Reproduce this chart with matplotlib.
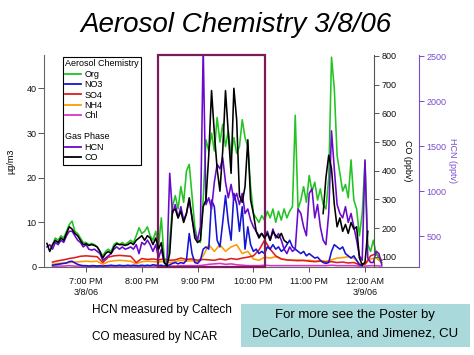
import numpy as np
import matplotlib
matplotlib.use('Agg')
import matplotlib.pyplot as plt
from matplotlib.lines import Line2D
from matplotlib.patches import Rectangle

plt.rcParams['font.family'] = ['Liberation Sans', 'DejaVu Sans']

nan = np.nan

# sample times, hours since midnight 3/8/06 (fast = 3 min, slow = 6 min)
t_fast = np.linspace(18.30, 24.30, 121)
t_slow = np.linspace(18.30, 24.30, 61)

# aerosol chemistry, ug/m3
org = [nan, nan, 5.0, 6.5, 6.0, 7.0, 6.5, 8.0, 9.5, 10.3,
       8.0, 7.5, 6.5, 5.5, 5.5, 5.0, 5.3, 5.0, 4.5, 3.5,
       2.5, 3.5, 4.0, 3.5, 5.0, 5.5, 5.0, 5.5, 5.0, 5.5,
       6.0, 5.5, 7.0, 8.8, 7.5, 8.0, 9.0, 7.0, 6.0, 8.0,
       4.5, 11.0, 2.0, 0.5, 6.0, 13.5, 16.0, 13.0, 18.0, 14.5,
       21.5, 23.0, 16.0, 9.0, 6.0, 5.5, 15.0, 28.5, 26.0, 30.0,
       26.0, 33.5, 28.0, 32.0, 27.0, 30.5, 25.0, 29.0, 25.5, 27.0,
       33.0, 29.0, 27.0, 18.0, 12.0, 11.0, 10.0, 11.5, 10.5, 12.5,
       11.0, 13.0, 10.0, 12.5, 10.5, 13.0, 11.0, 12.5, 13.5, 34.0,
       13.0, 15.0, 18.0, 14.5, 20.5, 17.0, 19.0, 15.0, 17.5, 14.0,
       13.0, 20.0, 47.0, 40.0, 25.0, 21.0, 17.0, 18.5, 15.5, 24.0,
       15.0, 13.0, 7.0, 12.0, 23.5, 5.0, 3.5, 6.0, 3.0, 2.0,
       1.0]
no3 = [nan, nan, 0.4, 0.5, 0.6, 0.7, 0.8, 0.9, 1.2, 1.3,
       0.9, 0.6, 0.4, 0.3, 0.3, 0.2, 0.3, 0.3, 0.2, 0.3,
       0.2, 0.3, 0.3, 0.4, 0.3, 0.3, 0.4, 0.3, 0.3, 0.4,
       0.3, 0.4, 0.3, 0.3, 0.4, 0.3, 0.4, 0.3, 0.5, 0.4,
       0.3, 0.4, 0.2, 0.2, 0.5, 0.8, 1.0, 0.7, 1.0, 0.8,
       1.5, 7.5, 3.0, 1.0, 0.8, 1.5, 4.0, 4.5, 4.0, 15.0,
       13.5, 6.0, 4.5, 10.0, 16.0, 10.0, 6.0, 16.5, 14.0, 8.0,
       13.5, 4.0, 9.0, 5.0, 3.5, 4.0, 3.0, 3.5, 3.0, 4.5,
       4.0, 5.0, 4.0, 4.5, 3.5, 4.0, 5.0, 6.0, 4.5, 4.0,
       3.5, 3.0, 3.5, 2.5, 3.0, 2.5, 2.0, 2.2, 1.5, 1.0,
       0.8, 1.0, 3.5, 5.0, 4.5, 4.0, 4.5, 3.0, 2.5, 2.0,
       2.5, 1.5, 0.5, 0.3, nan, nan, nan, nan, nan, nan,
       nan]
so4 = [nan, 1.1, 1.4, 1.6, 1.9, 2.1, 2.4, 2.5, 2.4, 2.3,
       1.0, 2.2, 2.5, 2.6, 2.5, 2.4, 1.0, 1.9, 1.7, 1.8,
       1.6, 1.8, 1.5, 1.6, 2.0, 1.7, 1.8, 1.5, 1.7, 1.6,
       1.5, 1.8, 1.6, 1.9, 1.7, 2.0, 2.2, 2.5, 3.8, 6.0,
       4.0, 2.5, 1.8, 1.6, 1.5, 1.4, 1.5, 1.3, 1.2, 1.3,
       1.1, 1.2, 1.0, 1.1, 0.9, 1.0, 0.5, 0.6, 2.5, 3.0,
       1.5]
nh4 = [nan, 0.6, 0.8, 0.9, 1.0, 1.1, 1.2, 1.3, 1.2, 1.3,
       0.6, 1.2, 1.4, 1.5, 1.4, 1.3, 0.7, 1.2, 1.3, 1.2,
       1.1, 1.3, 1.0, 1.2, 1.5, 1.3, 1.4, 1.2, 2.5, 5.0,
       3.5, 5.0, 3.5, 4.5, 5.0, 3.0, 3.5, 1.8, 1.5, 2.2,
       2.0, 2.3, 1.8, 1.6, 1.5, 1.6, 1.4, 1.5, 1.3, 1.4,
       1.3, 1.6, 2.0, 2.1, 2.3, 2.0, 0.8, 0.7, 1.8, 2.0,
       1.0]
chl = [nan, 0.1, 0.2, 0.2, 0.3, 0.2, 0.2, 0.2, 0.1, 0.2,
       0.1, 0.2, 0.2, 0.2, 0.2, 0.2, 0.1, 0.2, 0.2, 0.2,
       0.2, 0.2, 0.2, 0.2, 0.3, 0.3, 0.3, 0.3, 0.4, 0.6,
       0.7, 0.8, 0.6, 0.7, 0.5, 0.4, 0.3, 0.3, 0.3, 0.4,
       0.3, 0.3, 0.3, 0.3, 0.3, 0.3, 0.3, 0.3, 0.3, 0.3,
       0.3, 0.4, 0.3, 0.3, 0.3, 0.3, 0.2, 0.2, 0.3, 0.3,
       0.2]

# gas phase
hcn = [382, 407, 357, 432, 407, 457, 432, 506, 556, 556,
       506, 457, 432, 382, 407, 357, 347, 357, 333, 308,
       233, 258, 283, 308, 357, 382, 357, 382, 357, 367,
       382, 357, 407, 308, 432, 407, 457, 407, 333, 407,
       258, 357, 209, 184, 1201, 754, 853, 705, 829, 680,
       754, 903, 705, 531, 457, 605, 2600, 853, 928, 804,
       1101, 1300, 1250, 1374, 1101, 928, 1077, 903, 977, 853,
       977, 754, 804, 680, 605, 556, 506, 531, 481, 556,
       457, 581, 481, 531, 457, 357, 308, 382, 333, 357,
       804, 754, 605, 506, 977, 1027, 705, 853, 605, 457,
       407, 754, 1672, 1250, 853, 754, 705, 829, 655, 754,
       605, 457, 283, 233, 1349, 258, 209, 209, 333, 308,
       184]
co = [147, 119, 143, 158, 150, 166, 158, 182, 205, 197,
      182, 174, 158, 143, 146, 140, 143, 140, 135, 119,
      96, 112, 119, 112, 135, 146, 143, 143, 140, 143,
      150, 143, 158, 166, 174, 158, 174, 166, 143, 166,
      127, 150, 81, 68, 112, 259, 267, 236, 259, 220,
      251, 306, 236, 166, 150, 158, 275, 298, 454, 679,
      531, 407, 329, 469, 679, 531, 391, 687, 578, 314,
      290, 345, 508, 298, 251, 189, 166, 182, 166, 182,
      158, 189, 174, 166, 182, 158, 150, nan, nan, nan,
      nan, nan, nan, nan, nan, nan, nan, nan, nan, 251,
      376, 454, 407, 283, 205, 236, 189, 213, 182, 220,
      197, 205, 96, 73, 81, 189, nan, nan, nan, nan,
      nan]

hour_ticks = [19, 20, 21, 22, 23, 24]
hour_labels = ['7:00 PM\n3/8/06', '8:00 PM', '9:00 PM', '10:00 PM',
               '11:00 PM', '12:00 AM\n3/9/06']

c_org, c_no3, c_so4, c_nh4, c_chl = '#22c322', '#1414d2', '#dc1e1e', '#ff9a00', '#dc32c8'
c_hcn, c_co = '#6a08cc', '#000000'
c_hcn_axis = '#7a4ccf'

fig = plt.figure(figsize=(4.74, 3.55), dpi=100)
ax = fig.add_axes([44/474, 88/355, 375/474, 212/355])

lw = 1.15
ax.plot(t_slow, chl, color=c_chl, lw=lw)
ax.plot(t_slow, nh4, color=c_nh4, lw=lw)
ax.plot(t_slow, so4, color=c_so4, lw=lw)
ax.plot(t_fast, no3, color=c_no3, lw=lw)
ax.plot(t_fast, org, color=c_org, lw=lw)

ax.set_xlim(18.247, 24.968)
ax.set_ylim(0, 47.5)
ax.set_yticks([0, 10, 20, 30, 40])
ax.set_xticks(hour_ticks)
ax.set_xticklabels(hour_labels)
ax.tick_params(axis='x', labelsize=6.5, length=3.5, width=0.7, pad=4, colors='#555', labelcolor='#111')
ax.tick_params(axis='y', labelsize=6.5, length=4, width=0.7, pad=1.5, colors='#555', labelcolor='#111')
for s in ['top', 'right']:
    ax.spines[s].set_visible(False)
for s in ['left', 'bottom']:
    ax.spines[s].set_color('#666')
    ax.spines[s].set_linewidth(0.8)
ax.set_ylabel('µg/m3', fontsize=6.5)
ax.yaxis.set_label_coords(-29/375, 0.5)

# HCN axis on the far right
hcn_ax = ax.twinx()
hcn_ax.plot(t_fast, hcn, color=c_hcn, lw=lw)
hcn_ax.set_ylim(159, 2515)
hcn_ax.set_yticks([500, 1000, 1500, 2000, 2500])
for s in ['top', 'left', 'bottom']:
    hcn_ax.spines[s].set_visible(False)
hcn_ax.spines['right'].set_color(c_hcn_axis)
hcn_ax.spines['right'].set_linewidth(0.8)
hcn_ax.tick_params(axis='y', labelsize=6.5, length=3.5, width=0.7, pad=2,
                   colors=c_hcn_axis, labelcolor=c_hcn_axis)
hcn_ax.set_ylabel('HCN (pptv)', fontsize=6.5, color=c_hcn_axis, rotation=270,
                  va='center', ha='center')
hcn_ax.yaxis.set_label_coords(409/375, 0.5)

# CO axis, offset inside the plot
co_ax = ax.twinx()
co_ax.plot(t_fast, co, color=c_co, lw=lw)
co_ax.set_ylim(65, 803)
co_ax.set_yticks([100, 200, 300, 400, 500, 600, 700, 800])
for s in ['top', 'left', 'bottom']:
    co_ax.spines[s].set_visible(False)
co_ax.spines['right'].set_position(('axes', 330/375))
co_ax.spines['right'].set_color('#555')
co_ax.spines['right'].set_linewidth(0.8)
co_ax.tick_params(axis='y', labelsize=6.5, length=3.5, width=0.7, pad=2,
                  colors='#555', labelcolor='#111')
co_ax.set_ylabel('CO (ppbv)', fontsize=6.5, rotation=270, va='center', ha='center')
co_ax.yaxis.set_label_coords(364/375, 0.5)

# highlighted window
co_ax.axvspan(20.29, 22.21, ymin=0, ymax=1, fill=False, edgecolor='#7a1c5a',
              lw=1.6, clip_on=False)

# legend with group headers
headers = ['Aerosol Chemistry', ' ', 'Gas Phase']
handles = [Line2D([], [], color='none', label='Aerosol Chemistry')]
for name, c in [('Org', c_org), ('NO3', c_no3), ('SO4', c_so4), ('NH4', c_nh4), ('Chl', c_chl)]:
    handles.append(Line2D([], [], color=c, lw=1.3, label=name))
handles.append(Line2D([], [], color='none', label=' '))
handles.append(Line2D([], [], color='none', label='Gas Phase'))
handles.append(Line2D([], [], color=c_hcn, lw=1.3, label='HCN'))
handles.append(Line2D([], [], color=c_co, lw=1.3, label='CO'))
leg = co_ax.legend(handles=handles, loc='upper left', bbox_to_anchor=(19/375, 210/212),
                   borderaxespad=0, fontsize=6.5, frameon=True, fancybox=False,
                   edgecolor='black', framealpha=1, labelspacing=0.16,
                   handlelength=1.7, handletextpad=0.45, borderpad=0.25)
leg.get_frame().set_linewidth(0.8)
for column in leg._legend_handle_box.get_children():
    for row in column.get_children():
        kids = row.get_children()
        if kids[1]._text.get_text() in headers:
            row._children = [kids[1]]

# titles and notes
fig.text(0.497, 0.930, 'Aerosol Chemistry 3/8/06', fontsize=20, style='italic',
         ha='center', va='center')
fig.text(92/474, 1 - 310/355, 'HCN measured by Caltech', fontsize=8.5, va='center')
fig.text(92/474, 1 - 337/355, 'CO measured by NCAR', fontsize=8.5, va='center')
fig.patches.append(Rectangle((241/474, 1 - 347/355), 229/474, 43/355,
                             transform=fig.transFigure, facecolor='#a9d9da',
                             edgecolor='none', zorder=0))
fig.text(355/474, 1 - 315/355, 'For more see the Poster by', fontsize=9.5,
         ha='center', va='center')
fig.text(355/474, 1 - 333/355, 'DeCarlo, Dunlea, and Jimenez, CU', fontsize=9.5,
         ha='center', va='center')

fig.savefig('out.png', dpi=100)
